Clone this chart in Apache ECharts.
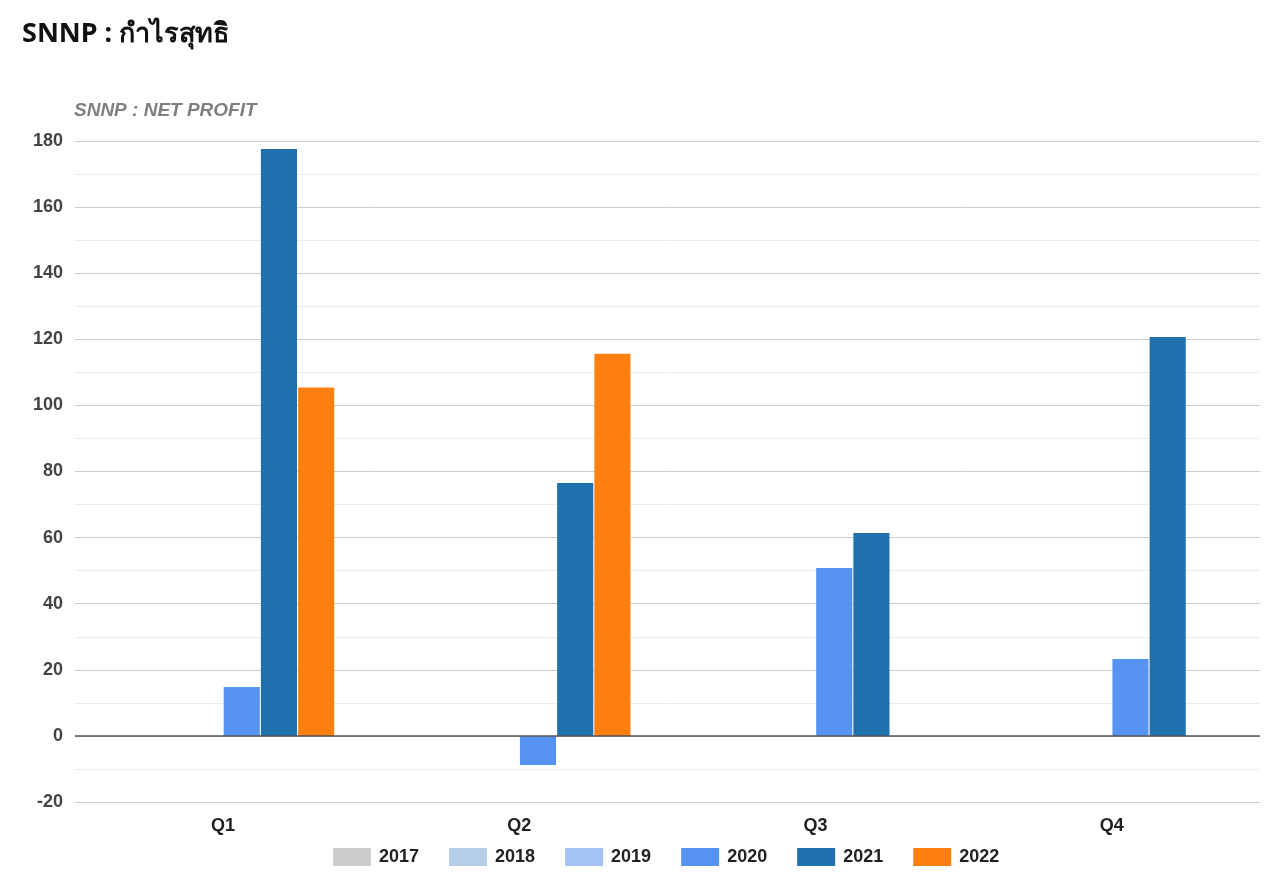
<!DOCTYPE html>
<html><head><meta charset="utf-8">
<script src="https://cdn.jsdelivr.net/npm/echarts@6/dist/echarts.min.js"></script>
<style>html,body{margin:0;padding:0;background:#fff;}#c{width:1267px;height:872px;}</style>
</head><body><div id="c"></div>
<script>
const categories = ['Q1','Q2','Q3','Q4'];
const years = ['2017','2018','2019','2020','2021','2022'];
const v2017 = [null,null,null,null];
const v2018 = [null,null,null,null];
const v2019 = [null,null,null,null];
const v2020 = [14.8,-8.8,50.8,23.3];
const v2021 = [177.6,76.5,61.4,120.7];
const v2022 = [105.4,115.6,null,null];
const yTicks = [-20,0,20,40,60,80,100,120,140,160,180];
const colors = ['#cccccc','#b6cde9','#a4c2f4','#5793f3','#1f71ae','#fd7f0f'];
const seriesData = [v2017,v2018,v2019,v2020,v2021,v2022];

const chart = echarts.init(document.getElementById('c'));
const series = years.map((y,i)=>({
  name:y, type:'bar', data:seriesData[i],
  itemStyle:{color:colors[i]},
  barGap:'3%', barCategoryGap:'25%',
  markLine: i===0 ? {silent:true, symbol:'none', label:{show:false},
    lineStyle:{color:'#555', width:1.5, type:'solid'}, data:[{yAxis:0}]} : undefined
}));
chart.setOption({
  animation:false,
  backgroundColor:'#fff',
  color:colors,
  title:[
    {text:'SNNP : กำไรสุทธิ', left:17, top:16, textStyle:{fontSize:27, fontWeight:'bold', color:'#111', fontFamily:'Noto Sans, sans-serif'}},
    {text:'SNNP : NET PROFIT', left:69, top:96, textStyle:{fontSize:19, fontWeight:'bold', fontStyle:'italic', color:'#7f7f7f', fontFamily:'Liberation Sans, Arial, sans-serif'}}
  ],
  grid:{left:75, right:7, top:141, bottom:70, containLabel:false},
  legend:{bottom:1, left:328, itemWidth:38, itemHeight:18, itemGap:30, icon:'rect',
    textStyle:{fontSize:18, fontWeight:'bold', color:'#222', padding:[0,0,0,3], fontFamily:'Liberation Sans, Arial, sans-serif'},
    data:years},
  xAxis:{type:'category', data:categories,
    axisLine:{show:false, onZero:false}, axisTick:{show:false},
    axisLabel:{margin:15, fontSize:18, fontWeight:'bold', color:'#222', fontFamily:'Liberation Sans, Arial, sans-serif'}},
  yAxis:{type:'value', min:yTicks[0], max:yTicks[yTicks.length-1], interval:20,
    axisLine:{show:false}, axisTick:{show:false},
    axisLabel:{margin:12, fontSize:18, fontWeight:'bold', color:'#444', fontFamily:'Liberation Sans, Arial, sans-serif'},
    splitLine:{lineStyle:{color:'#cccccc', width:1}},
    minorTick:{show:false, splitNumber:2},
    minorSplitLine:{show:true, lineStyle:{color:'#ebebeb', width:1}}},
  series:series
});
</script></body></html>
